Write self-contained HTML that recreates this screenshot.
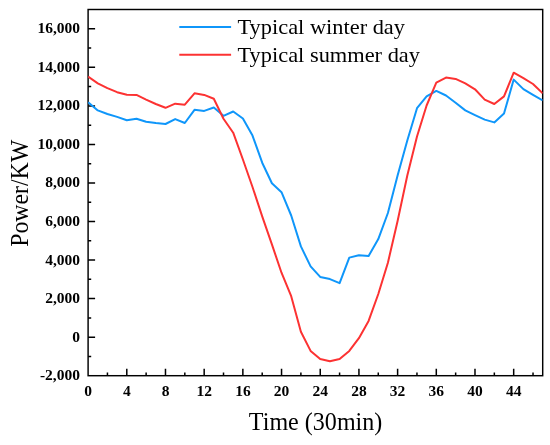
<!DOCTYPE html>
<html><head><meta charset="utf-8"><title>Power chart</title>
<style>
html,body{margin:0;padding:0;background:#fff;}
svg{display:block;}
text{font-family:"Liberation Serif","Times New Roman",serif;fill:#000;}
.tk{font-weight:bold;font-size:15.5px;}
.lg{font-size:22px;}
.ttl{font-size:24.3px;}
</style></head><body>
<svg width="550" height="445" viewBox="0 0 550 445">
<rect x="0" y="0" width="550" height="445" fill="#fff"/>
<path d="M88.1,356.43h3.1M88.1,337.16h7M88.1,317.88h3.1M88.1,298.61h7M88.1,279.34h3.1M88.1,260.07h7M88.1,240.79h3.1M88.1,221.52h7M88.1,202.25h3.1M88.1,182.98h7M88.1,163.71h3.1M88.1,144.43h7M88.1,125.16h3.1M88.1,105.89h7M88.1,86.62h3.1M88.1,67.34h7M88.1,48.07h3.1M88.1,28.80h7M107.44,375.7v-3.1M126.79,375.7v-7M146.13,375.7v-3.1M165.48,375.7v-7M184.82,375.7v-3.1M204.17,375.7v-7M223.51,375.7v-3.1M242.86,375.7v-7M262.20,375.7v-3.1M281.55,375.7v-7M300.89,375.7v-3.1M320.24,375.7v-7M339.58,375.7v-3.1M358.93,375.7v-7M378.27,375.7v-3.1M397.61,375.7v-7M416.96,375.7v-3.1M436.30,375.7v-7M455.65,375.7v-3.1M474.99,375.7v-7M494.34,375.7v-3.1M513.68,375.7v-7M533.03,375.7v-3.1" stroke="#000" stroke-width="1.5" fill="none"/>
<rect x="88.1" y="9.5" width="454.6" height="366.2" fill="none" stroke="#000" stroke-width="1.45"/>
<clipPath id="c"><rect x="88.1" y="9.5" width="454.6" height="366.2"/></clipPath>
<g clip-path="url(#c)" fill="none" stroke-width="2" stroke-linejoin="round" stroke-linecap="butt">
<polyline points="88.1,102.2 97.8,110.4 107.4,114.0 117.1,116.9 126.8,120.2 136.5,118.7 146.1,121.8 155.8,123.1 165.5,124.0 175.2,119.1 184.8,123.0 194.5,109.8 204.2,110.9 213.8,107.5 223.5,115.8 233.2,111.5 242.9,118.5 252.5,135.6 262.2,162.7 271.9,183.3 281.5,192.2 291.2,215.5 300.9,246.4 310.6,266.4 320.2,276.9 329.9,279.1 339.6,283.1 349.3,257.6 358.9,255.3 368.6,256.0 378.3,239.1 387.9,213.0 397.6,175.5 407.3,140.5 417.0,108.2 426.6,96.4 436.3,90.9 446.0,95.5 455.6,102.7 465.3,110.4 475.0,115.1 484.7,119.6 494.3,122.4 504.0,113.6 513.7,79.6 523.4,89.1 533.0,94.9 542.7,100.5" stroke="#0F96FA"/>
<polyline points="88.1,76.7 97.8,83.3 107.4,88.2 117.1,92.2 126.8,94.7 136.5,94.9 146.1,99.6 155.8,104.0 165.5,107.8 175.2,103.7 184.8,104.7 194.5,93.3 204.2,94.9 213.8,98.7 223.5,118.7 233.2,132.7 242.9,159.5 252.5,187.0 262.2,216.4 271.9,244.4 281.5,272.7 291.2,296.2 300.9,331.8 310.6,350.9 320.2,359.1 329.9,361.3 339.6,359.1 349.3,350.9 358.9,338.2 368.6,320.9 378.3,294.0 387.9,262.7 397.6,221.0 407.3,175.5 417.0,136.5 426.6,105.5 436.3,82.7 446.0,77.6 455.6,78.9 465.3,83.4 475.0,89.3 484.7,99.6 494.3,104.0 504.0,96.4 513.7,72.7 523.4,78.2 533.0,84.0 542.7,93.3" stroke="#FC3232"/>
</g>
<text class="tk" x="80" y="380.1" text-anchor="end">-2,000</text>
<text class="tk" x="80" y="341.6" text-anchor="end">0</text>
<text class="tk" x="80" y="303.0" text-anchor="end">2,000</text>
<text class="tk" x="80" y="264.5" text-anchor="end">4,000</text>
<text class="tk" x="80" y="225.9" text-anchor="end">6,000</text>
<text class="tk" x="80" y="187.4" text-anchor="end">8,000</text>
<text class="tk" x="80" y="148.8" text-anchor="end">10,000</text>
<text class="tk" x="80" y="110.3" text-anchor="end">12,000</text>
<text class="tk" x="80" y="71.7" text-anchor="end">14,000</text>
<text class="tk" x="80" y="33.2" text-anchor="end">16,000</text>
<text class="tk" x="88.1" y="395.5" text-anchor="middle">0</text>
<text class="tk" x="126.8" y="395.5" text-anchor="middle">4</text>
<text class="tk" x="165.5" y="395.5" text-anchor="middle">8</text>
<text class="tk" x="204.2" y="395.5" text-anchor="middle">12</text>
<text class="tk" x="242.9" y="395.5" text-anchor="middle">16</text>
<text class="tk" x="281.5" y="395.5" text-anchor="middle">20</text>
<text class="tk" x="320.2" y="395.5" text-anchor="middle">24</text>
<text class="tk" x="358.9" y="395.5" text-anchor="middle">28</text>
<text class="tk" x="397.6" y="395.5" text-anchor="middle">32</text>
<text class="tk" x="436.3" y="395.5" text-anchor="middle">36</text>
<text class="tk" x="475.0" y="395.5" text-anchor="middle">40</text>
<text class="tk" x="513.7" y="395.5" text-anchor="middle">44</text>
<line x1="179.3" y1="27" x2="231.1" y2="27" stroke="#0F96FA" stroke-width="1.9"/>
<line x1="179.3" y1="54.8" x2="231.1" y2="54.8" stroke="#FC3232" stroke-width="1.9"/>
<text class="lg" x="237.5" y="34.3" textLength="167.5" lengthAdjust="spacingAndGlyphs">Typical winter day</text>
<text class="lg" x="237.5" y="61.5" textLength="182.5" lengthAdjust="spacingAndGlyphs">Typical summer day</text>
<text class="ttl" x="315.6" y="430.1" text-anchor="middle" textLength="133.5" lengthAdjust="spacingAndGlyphs">Time (30min)</text>
<text class="ttl" transform="translate(28.3,193.3) rotate(-90)" text-anchor="middle" textLength="107" lengthAdjust="spacingAndGlyphs">Power/KW</text>
</svg></body></html>
